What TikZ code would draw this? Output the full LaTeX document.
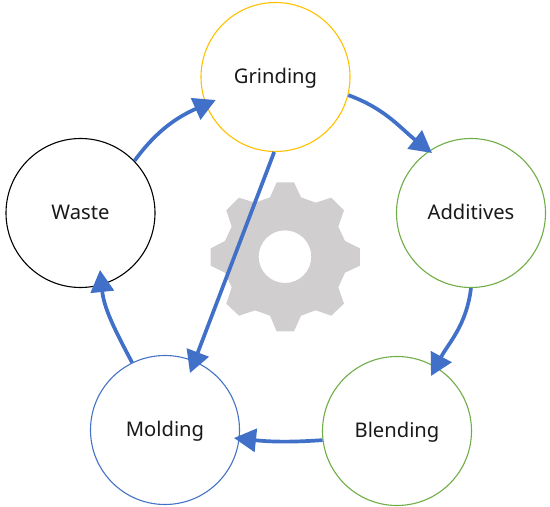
\documentclass[tikz,border=0pt]{standalone}
\usepackage{fontspec}
\setmainfont{Noto Sans}
\usetikzlibrary{arrows.meta}
\definecolor{cyellow}{HTML}{FFC000}
\definecolor{cgreen}{HTML}{70AD47}
\definecolor{cblue}{HTML}{4472C4}
\definecolor{cflow}{HTML}{4070C8}
\definecolor{cgear}{HTML}{D0CECE}
\tikzset{
  stage/.style={circle,draw,line width=1.1pt,minimum size=149pt,inner sep=0pt,font=\fontsize{20.2}{24}\selectfont,text=black!90,text height=13.6pt,text depth=0pt},
  flow/.style={draw=cflow,line width=3.7pt,-{Triangle[length=22pt,width=23pt]}}
}
\begin{document}
\begin{tikzpicture}[x=1pt,y=1pt]
\useasboundingbox (0,0) rectangle (550,507);
\begin{scope}[x=0.33333pt,y=-0.33333pt,shift={(570,-1041)}]
\fill[cgear,even odd rule] (260,67)--(312,67)--(333,112)--(377,128)--(424,113)--(462,151)--(445,200)--(465,243)--(510,265)--(510,317)--(465,338)--(445,382)--(462,431)--(424,467)--(377,451)--(333,467)--(312,514)--(260,514)--(240,467)--(195,451)--(147,467)--(109,431)--(125,382)--(105,338)--(62,317)--(62,265)--(105,243)--(125,200)--(109,151)--(147,113)--(195,128)--(240,112)--cycle (285,290) circle[radius=79];
\end{scope}
\node[stage,draw=cyellow] (grind) at (275.5,430) {Grinding};
\node[stage,draw=cgreen] (add) at (471,294) {Additives};
\node[stage,draw=cgreen] (blend) at (397,76) {Blending};
\node[stage,draw=cblue] (mold) at (165,77) {Molding};
\node[stage,draw=black] (waste) at (80.5,294) {Waste};
\path (add) ++(-39,60) coordinate (tipA);
\path (blend) ++(34,55) coordinate (tipB);
\path (mold) ++(69,-8) coordinate (tipM);
\path (waste) ++(19.5,-57) coordinate (tipW);
\path (grind) ++(-59.8,-23) coordinate (tipG);
\path (mold) ++(25,57) coordinate (tipX);
\draw[flow] (grind.-14) to[out=-20,in=142] (tipA);
\draw[flow] (add.-90) to[out=-97,in=62] (tipB);
\draw[flow] (blend.187) to[out=184,in=-6] (tipM);
\draw[flow] (mold.116) to[out=118,in=-84] (tipW);
\draw[flow] (waste.44.5) to[out=54,in=204] (tipG);
\draw[flow] (grind.-91) -- (tipX);
\end{tikzpicture}
\end{document}
